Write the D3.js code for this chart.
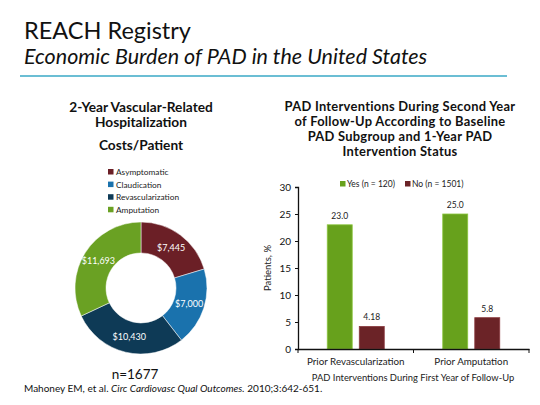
<!DOCTYPE html>
<html><head><meta charset="utf-8">
<script src="https://cdn.jsdelivr.net/npm/d3@7"></script>
<style>
html,body{margin:0;padding:0;background:#fff;}
svg{display:block;font-family:Lato,"Open Sans",sans-serif;}
</style></head>
<body>
<svg id="c" width="540" height="405"></svg>
<script>
// ---- data ----
const costCategories = ["Asymptomatic","Claudication","Revascularization","Amputation"];
const costValues = [7445, 7000, 10430, 11693];
const costLabels = ["$7,445","$7,000","$10,430","$11,693"];
const barCategories = ["Prior Revascularization","Prior Amputation"];
const seriesNames = ["Yes (n = 120)","No (n = 1501)"];
const yesValues = [23.0, 25.0];
const noValues = [4.18, 5.8];
const yesLabels = ["23.0","25.0"];
const noLabels = ["4.18","5.8"];
const yTicks = [0,5,10,15,20,25,30];

const costColors = ["#6B1F26","#1A72AD","#0E3A56","#6AA123"];
const seriesColors = ["#67A11C","#6B2327"];

const svg = d3.select("#c");

// ---- header ----
svg.append("text").attr("x",24).attr("y",38.5).attr("font-size",23.5).attr("fill","#111").text("REACH Registry");
svg.append("text").attr("x",24).attr("y",64).attr("font-size",21.5).attr("font-style","italic").attr("fill","#111").text("Economic Burden of PAD in the United States");
svg.append("line").attr("x1",20).attr("x2",507).attr("y1",76).attr("y2",76).attr("stroke","#3AA8C6").attr("stroke-width",1.5);

// ---- left titles ----
const lt = svg.append("text").attr("font-weight","bold").attr("font-size",13.7).attr("text-anchor","middle").attr("fill","#111");
lt.append("tspan").attr("x",141).attr("y",111.5).text("2-Year Vascular-Related");
lt.append("tspan").attr("x",141).attr("y",127).text("Hospitalization");
svg.append("text").attr("font-weight","bold").attr("font-size",13.7).attr("text-anchor","middle").attr("fill","#111")
  .attr("x",141).attr("y",150).text("Costs/Patient");

// legend
const lg = svg.append("g").attr("font-size",8.3).attr("fill","#222");
costCategories.forEach((c,i)=>{
  const y = 172 + i*12.6;
  lg.append("rect").attr("x",108).attr("y",y-3).attr("width",5.5).attr("height",5.5).attr("fill",costColors[i]);
  lg.append("text").attr("x",116).attr("y",y+3).text(c);
});

// donut
const cx = 141, cy = 288, rO = 66, rI = 35;
const pie = d3.pie().sort(null).value(d=>d)(costValues);
const arc = d3.arc().innerRadius(rI).outerRadius(rO);
const dg = svg.append("g").attr("transform",`translate(${cx},${cy})`);
dg.selectAll("path").data(pie).join("path").attr("d",arc).attr("fill",(d,i)=>costColors[i]).attr("stroke","#fff").attr("stroke-width",0.5);
const lArc = d3.arc().innerRadius((rI+rO)/2).outerRadius((rI+rO)/2);
dg.selectAll("text").data(pie).join("text")
  .attr("transform",d=>`translate(${lArc.centroid(d)})`)
  .attr("text-anchor","middle").attr("dy","0.35em").attr("font-size",9).attr("fill","#fff")
  .text((d,i)=>costLabels[i]);

svg.append("text").attr("x",135).attr("y",379).attr("text-anchor","middle").attr("font-size",13.5).attr("fill","#111").text("n=1677");

// footer
const ft = svg.append("text").attr("x",24).attr("y",392).attr("font-size",10).attr("fill","#111");
ft.append("tspan").text("Mahoney EM, et al. ");
ft.append("tspan").attr("font-style","italic").text("Circ Cardiovasc Qual Outcomes.");
ft.append("tspan").text(" 2010;3:642-651.");

// ---- right titles ----
const rt = svg.append("g").attr("font-weight","bold").attr("font-size",12.9).attr("letter-spacing",0.28).attr("text-anchor","middle").attr("fill","#111");
["PAD Interventions During Second Year","of Follow-Up According to Baseline","PAD Subgroup and 1-Year PAD","Intervention Status"].forEach((t,i)=>{
  rt.append("text").attr("x",400).attr("y",111+i*14.9).text(t);
});

// bar chart
const x0 = d3.scaleBand().domain(barCategories).range([298,529]).paddingInner(0).paddingOuter(0);
const y = d3.scaleLinear().domain([0,30]).range([349,187]);
const x1 = d3.scaleBand().domain(seriesNames).range([0,57]).paddingInner(0.22);

const bg = svg.append("g");
barCategories.forEach((c,i)=>{
  const gx = x0(c) + (x0.bandwidth()-57)/2;
  [yesValues, noValues].forEach((vals,s)=>{
    const v = vals[i];
    bg.append("rect").attr("x",gx + x1(seriesNames[s])).attr("y",y(v)).attr("width",x1.bandwidth()).attr("height",y(0)-y(v))
      .attr("fill",seriesColors[s]).attr("stroke",s===0?"#8CC63F":"#8A3A3F").attr("stroke-width",0.8);
    bg.append("text").attr("x",gx + x1(seriesNames[s]) + x1.bandwidth()/2).attr("y",y(v)-6)
      .attr("text-anchor","middle").attr("font-size",8.5).attr("fill","#222").text((s===0?yesLabels:noLabels)[i]);
  });
});

const yAxis = svg.append("g").attr("transform","translate(298,0)")
  .call(d3.axisLeft(y).tickValues(yTicks).tickSize(3).tickPadding(4));
yAxis.select(".domain").attr("stroke","#111").attr("stroke-width",1.3);
yAxis.selectAll(".tick line").attr("stroke","#111");
yAxis.selectAll("text").attr("font-size",10).attr("fill","#111").attr("font-family","Lato,'Open Sans',sans-serif");

const xAxis = svg.append("g").attr("transform","translate(0,349)")
  .call(d3.axisBottom(x0).tickSize(0).tickPadding(9));
xAxis.select(".domain").attr("stroke","#111").attr("stroke-width",1.3);
xAxis.selectAll("text").attr("font-size",9.8).attr("fill","#222").attr("font-family","Lato,'Open Sans',sans-serif");
// boundary tick marks
[298, 298+x0.bandwidth(), 529].forEach(px=>{
  svg.append("line").attr("x1",px).attr("x2",px).attr("y1",349).attr("y2",353).attr("stroke","#111");
});

svg.append("text").attr("x",413).attr("y",381).attr("text-anchor","middle").attr("font-size",9.4).attr("fill","#222")
  .text("PAD Interventions During First Year of Follow-Up");
svg.append("text").attr("transform","translate(271,268) rotate(-90)").attr("text-anchor","middle").attr("font-size",9.5).attr("fill","#222")
  .text("Patients, %");

// bar legend
const bl = svg.append("g").attr("font-size",8.5).attr("fill","#222");
[[340,0],[405,1]].forEach(([lx,s])=>{
  bl.append("rect").attr("x",lx).attr("y",181).attr("width",5.5).attr("height",5.5).attr("fill",seriesColors[s]);
  bl.append("text").attr("x",lx+7).attr("y",187).text(seriesNames[s]);
});
</script>
</body></html>
